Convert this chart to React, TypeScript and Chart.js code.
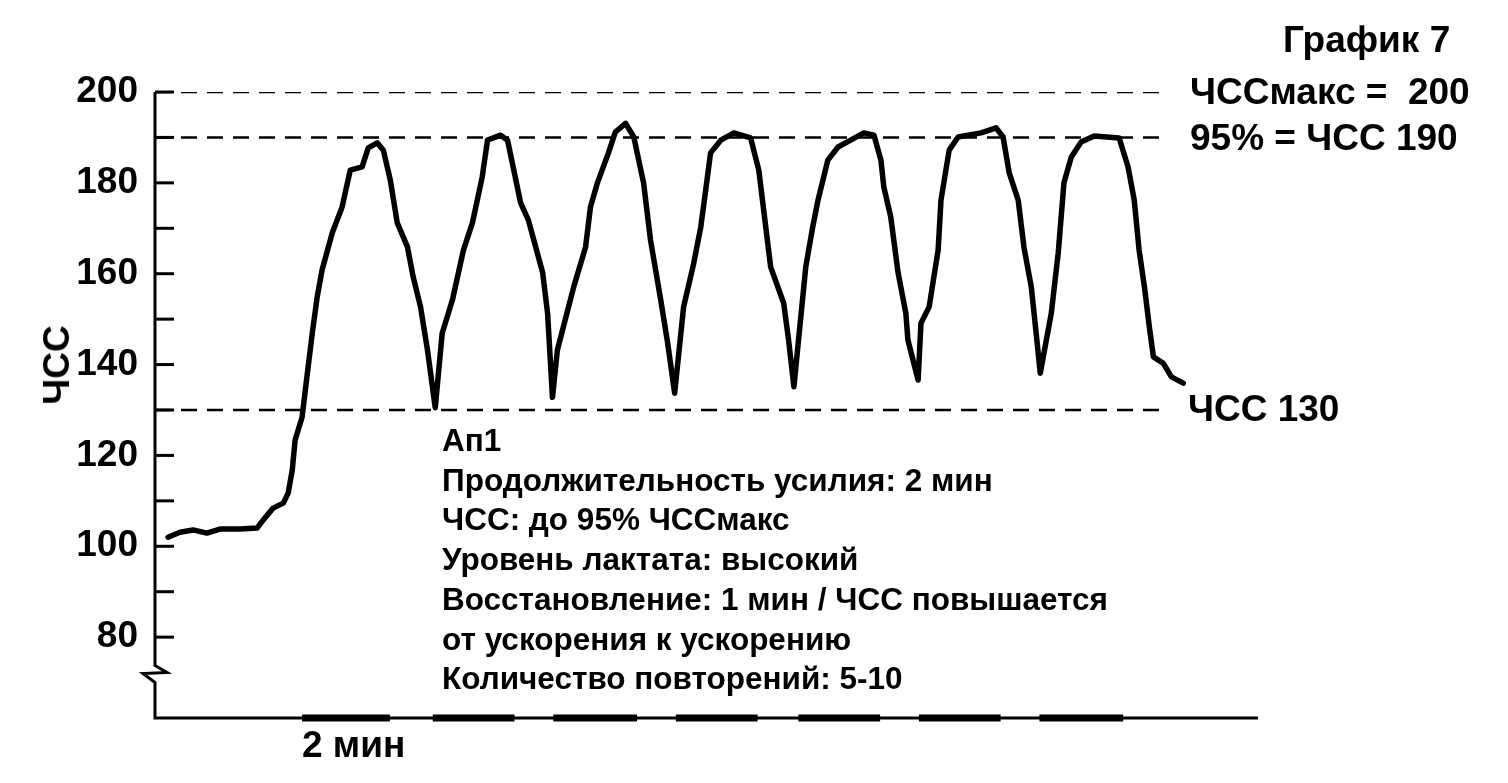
import { useEffect, useRef } from "react"
import { Chart, registerables, type ChartConfiguration, type Plugin } from "chart.js"

Chart.register(...registerables)

// heart rate trace: time in minutes, ЧСС in beats per minute
const hrTime = [
  0.32, 0.61, 0.93, 1.27, 1.59, 2.08, 2.5, 2.65, 2.89, 3.14, 3.26, 3.36, 3.43, 3.6, 3.73, 3.85, 3.97, 4.09,
  4.34, 4.58, 4.78, 5.07, 5.22, 5.44, 5.59, 5.76, 5.93, 6.18, 6.32, 6.5, 6.67, 6.86, 7.03, 7.28, 7.55, 7.77,
  8.01, 8.14, 8.46, 8.63, 8.95, 9.14, 9.49, 9.61, 9.73, 9.85, 10.25, 10.54, 10.66, 10.83, 11.1, 11.27, 11.52,
  11.72, 11.96, 12.13, 12.38, 12.55, 12.72, 12.94, 13.19, 13.36, 13.48, 13.6, 13.85, 14.17, 14.58, 14.78,
  14.9, 15.07, 15.39, 15.51, 15.64, 15.76, 15.93, 16.1, 16.23, 16.47, 16.72, 17.03, 17.35, 17.6, 17.77,
  17.84, 18.01, 18.19, 18.38, 18.43, 18.68, 18.75, 18.95, 19.17, 19.24, 19.44, 19.66, 20.22, 20.59, 20.76,
  20.91, 21.13, 21.27, 21.45, 21.57, 21.67, 21.94, 22.11, 22.25, 22.43, 22.67, 22.99, 23.6, 23.82, 23.97,
  24.09, 24.22, 24.34, 24.44, 24.68, 24.88, 25.17,
]
const hrValue = [
  102, 103.1, 103.6, 102.9, 103.8, 103.8, 104, 105.8, 108.4, 109.5, 111.7, 116.8, 123.4, 128.4, 138.1, 146.9, 154.9, 160.8,
  169, 174.7, 182.8, 183.5, 187.7, 188.8, 187.2, 180.6, 171.2, 165.9, 159.3, 152.7, 143.2, 130.5, 146.9, 154.2, 165.2, 171.2,
  181.3, 189.4, 190.5, 189.4, 175.6, 171.8, 160.2, 151.3, 132.8, 143.2, 157.1, 165.9, 174.7, 180, 186.6, 191.2, 193.1,
  190.1, 180, 167.4, 154.2, 144.7, 133.7, 152.7, 162.4, 170.3, 178.4, 186.6, 189.4, 191, 189.9, 182.8,
  174, 161.5, 153.5, 145.4, 135.1, 146.1, 161.5, 170.3, 176.2, 185, 187.9, 189.4, 191, 190.5, 185,
  179.1, 172.5, 160.2, 151.3, 145.4, 136.6, 149.1, 152.7, 165.2, 176.2, 187.2, 190.1, 191, 192.1, 190.1,
  182.2, 176.2, 165.9, 157.1, 146.9, 138.1, 151.3, 164.6, 180, 185.7, 189, 190.3, 189.9, 183.5, 176.2,
  165.2, 157.1, 148.3, 141.7, 140.3, 137.3, 135.9,
]

// 2-minute efforts, marked on the time axis
const workStart = [3.6, 6.8, 9.75, 12.75, 15.75, 18.7, 21.65]
const workEnd = [5.75, 8.8, 11.8, 14.75, 17.75, 20.7, 23.7]

// ЧССмакс, 95% and the lower limit
const refLevels = [200, 190, 130]
const refEnd = 24.75

const yTicks = [80, 90, 100, 110, 120, 130, 140, 150, 160, 170, 180, 190, 200]
const yMin = 62.2
const yMax = 200
const yBreak = 72
const xMax = 27

const FONT = "'Liberation Sans', Arial, sans-serif"

const brokenAxis: Plugin<"line"> = {
  id: "brokenAxis",
  beforeDatasetsDraw(chart) {
    const { ctx, chartArea } = chart
    const { left, right, bottom } = chartArea
    const y = chart.scales.y
    const top = y.getPixelForValue(yMax)
    const brk = y.getPixelForValue(yBreak)
    ctx.save()
    ctx.strokeStyle = "#000"
    ctx.lineWidth = 3
    ctx.beginPath()
    ctx.moveTo(left, top)
    ctx.lineTo(left, brk - 8)
    ctx.lineTo(left + 12, brk - 1)
    ctx.lineTo(left - 12, brk)
    ctx.lineTo(left, brk + 9)
    ctx.lineTo(left, bottom)
    ctx.lineTo(right, bottom)
    ctx.stroke()
    // ticks point into the plot
    yTicks.forEach(v => {
      const py = y.getPixelForValue(v)
      ctx.beginPath()
      ctx.moveTo(left, py)
      ctx.lineTo(left + 19, py)
      ctx.stroke()
    })
    ctx.restore()
  },
}

function HeartRateChart() {
  const canvasRef = useRef<HTMLCanvasElement>(null)

  useEffect(() => {
    if (!canvasRef.current) return
    Chart.getChart(canvasRef.current)?.destroy()

    const work: { x: number; y: number | null }[] = []
    workStart.forEach((s, i) => {
      work.push({ x: s, y: yMin }, { x: workEnd[i], y: yMin }, { x: workEnd[i] + 0.5, y: null })
    })

    const config: ChartConfiguration<"line"> = {
      type: "line",
      data: {
        datasets: [
          {
            data: hrTime.map((t, i) => ({ x: t, y: hrValue[i] })),
            borderColor: "#000",
            borderWidth: 5.5,
            pointRadius: 0,
            tension: 0,
            borderJoinStyle: "round",
            borderCapStyle: "round",
          },
          ...refLevels.map(level => ({
            data: [{ x: 0, y: level }, { x: refEnd, y: level }],
            borderColor: "#000",
            borderWidth: 2.5,
            borderDash: [16, 10],
            pointRadius: 0,
          })),
          {
            data: work,
            borderColor: "#000",
            borderWidth: 7,
            pointRadius: 0,
            spanGaps: false,
            clip: false,
          },
        ],
      },
      options: {
        responsive: false,
        animation: false,
        layout: { padding: { left: 0, right: 250, top: 92, bottom: 65 } },
        plugins: { legend: { display: false }, tooltip: { enabled: false } },
        scales: {
          x: { type: "linear", min: 0, max: xMax, display: false },
          y: {
            type: "linear",
            min: yMin,
            max: yMax,
            afterBuildTicks: scale => { scale.ticks = yTicks.map(v => ({ value: v })) },
            afterFit: scale => { scale.width = 155 },
            grid: { display: false, drawTicks: false },
            border: { display: false },
            ticks: {
              padding: 17,
              color: "#000",
              font: { family: FONT, size: 37, weight: "bold" },
              callback: v => (Number(v) % 20 === 0 ? String(v) : ""),
            },
          },
        },
      },
      plugins: [brokenAxis],
    }

    const chart = new Chart(canvasRef.current, config)
    return () => { chart.destroy() }
  }, [])

  return <canvas ref={canvasRef} width={1508} height={783} style={{ position: "absolute", left: 0, top: 0 }} />
}

const label = (size: number): React.CSSProperties => ({
  position: "absolute",
  fontFamily: FONT,
  fontWeight: "bold",
  fontSize: size,
  lineHeight: "40px",
  color: "#000",
  whiteSpace: "pre",
})

const notes = [
  "Ап1",
  "Продолжительность усилия: 2 мин",
  "ЧСС: до 95% ЧССмакс",
  "Уровень лактата: высокий",
  "Восстановление: 1 мин / ЧСС повышается",
  "от ускорения к ускорению",
  "Количество повторений: 5-10",
]

export default function App() {
  useEffect(() => { document.body.style.margin = "0" }, [])
  return (
    <div style={{ position: "relative", width: 1508, height: 783, background: "#fff", overflow: "hidden" }}>
      <HeartRateChart />
      <div style={{ ...label(37), left: 1283, top: 20 }}>График 7</div>
      <div style={{ ...label(37), left: 1190, top: 72 }}>ЧССмакс =  200</div>
      <div style={{ ...label(37), left: 1190, top: 118 }}>95% = ЧСС 190</div>
      <div style={{ ...label(37), left: 1188, top: 389 }}>ЧСС 130</div>
      <div style={{ ...label(37), left: 302, top: 725 }}>2 мин</div>
      <div style={{ ...label(37), left: 57, top: 365, transform: "translate(-50%, -50%) rotate(-90deg)" }}>ЧСС</div>
      <div style={{ position: "absolute", left: 442, top: 421, fontFamily: FONT, fontWeight: "bold", fontSize: 31.5, lineHeight: "39.7px", color: "#000", whiteSpace: "pre" }}>
        {notes.map(n => <div key={n}>{n}</div>)}
      </div>
    </div>
  )
}
